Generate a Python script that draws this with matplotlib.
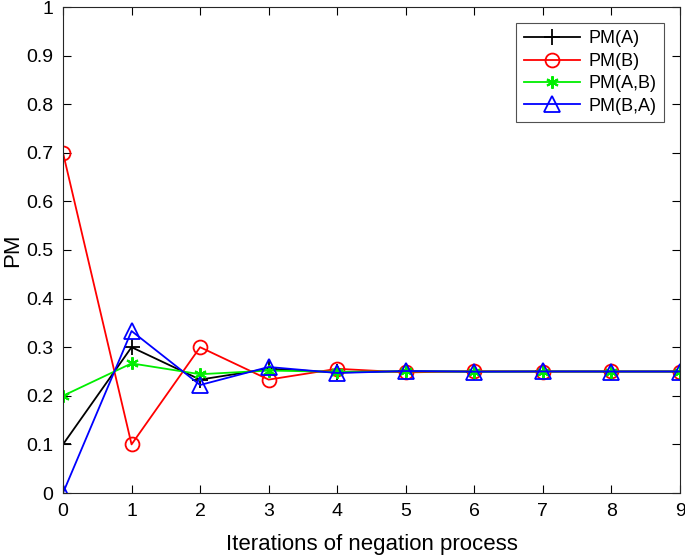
import matplotlib
matplotlib.use("Agg")
import matplotlib.pyplot as plt

iterations = [0, 1, 2, 3, 4, 5, 6, 7, 8, 9]
pm_a = [0.1, 0.3, 0.2333, 0.2556, 0.2481, 0.2506, 0.2498, 0.2501, 0.25, 0.25]
pm_b = [0.7, 0.1, 0.3, 0.2333, 0.2556, 0.2481, 0.2506, 0.2498, 0.2501, 0.25]
pm_ab = [0.2, 0.2667, 0.2444, 0.2519, 0.2494, 0.2502, 0.2499, 0.25, 0.25, 0.25]
pm_ba = [0.0, 0.3333, 0.2222, 0.2593, 0.2469, 0.251, 0.2497, 0.2501, 0.25, 0.25]
y_ticks = [0, 0.1, 0.2, 0.3, 0.4, 0.5, 0.6, 0.7, 0.8, 0.9, 1]
y_tick_labels = ["0", "0.1", "0.2", "0.3", "0.4", "0.5", "0.6", "0.7", "0.8", "0.9", "1"]

plt.rcParams['font.family'] = ['Liberation Sans', 'DejaVu Sans']
fig = plt.figure(figsize=(6.85, 5.56), dpi=100)
ax = fig.add_axes([63/685, 1-493/556, (680-63)/685, (493-7)/556])

ax.plot(iterations, pm_a, color='black', marker='+', markersize=11, mew=1.3, lw=1.3, label='PM(A)')
ax.plot(iterations, pm_b, color='red', marker='o', markerfacecolor='none', markersize=10, mew=1.3, lw=1.3, label='PM(B)')
ax.plot(iterations, pm_ab, color='#00ee00', marker=(6, 2, 0), markersize=9, mew=1.5, lw=1.3, label='PM(A,B)')
ax.plot(iterations, pm_ba, color='blue', marker='^', markerfacecolor='none', markersize=11, mew=1.3, lw=1.3, label='PM(B,A)')

ax.set_xlim(0, 9)
ax.set_ylim(0, 1)
ax.set_xticks(iterations)
ax.set_yticks(y_ticks)
ax.set_yticklabels(y_tick_labels)
ax.tick_params(direction='in', top=True, right=True, labelsize=14, length=6, width=0.8, pad=7)
for s in ax.spines.values():
    s.set_linewidth(0.8)
    s.set_color('#262626')
ax.set_xlabel('Iterations of negation process', fontsize=16, labelpad=10)
ax.set_ylabel('PM', fontsize=16, labelpad=2)
leg = ax.legend(loc='upper right', fontsize=13, fancybox=False, edgecolor='#262626',
                borderaxespad=0.9, handlelength=3.1, labelspacing=0.3, borderpad=0.4,
                handletextpad=0.5)
leg.get_frame().set_linewidth(0.8)

fig.savefig('out.png', dpi=100)
